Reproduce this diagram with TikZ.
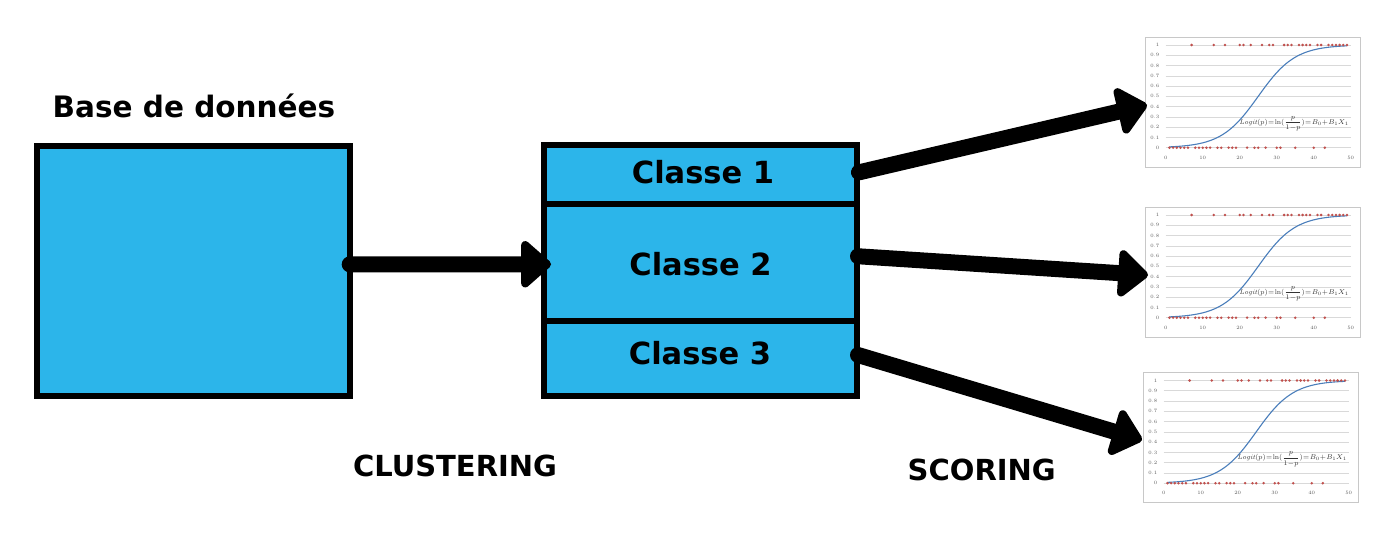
\documentclass[tikz,border=0pt]{standalone}
\usepackage{fontspec}
\usepackage{amsmath}
\usetikzlibrary{arrows.meta,calc}
\newfontfamily\dejab{DejaVu Sans}
\definecolor{boxcyan}{RGB}{44,181,234}
\definecolor{gridgray}{RGB}{217,217,217}
\definecolor{framegray}{RGB}{200,200,200}
\definecolor{labgray}{RGB}{89,89,89}
\definecolor{curveblue}{RGB}{74,126,187}
\definecolor{ptred}{RGB}{192,80,77}
\tikzset{
  cbox/.style={draw=black, fill=boxcyan, line width=6pt, inner sep=0pt, outer sep=0pt},
  bigtext/.style={font=\dejab\bfseries\fontsize{30.5}{36}\selectfont, inner sep=0pt, anchor=base},
  captext/.style={font=\dejab\bfseries\fontsize{29}{34}\selectfont, inner sep=0pt, anchor=base},
  titletext/.style={font=\dejab\bfseries\fontsize{29.5}{36}\selectfont, inner sep=0pt, anchor=base},
  bigarrow/.style={line width=16pt, line cap=round, -{Triangle[length=32pt,width=54pt,line width=8pt,round]}},
  chartbox/.style={draw=framegray, line width=0.7pt, minimum width=215pt, minimum height=130pt, inner sep=0pt, outer sep=0pt},
  gridl/.style={draw=gridgray, line width=0.6pt},
  ylab/.style={font=\fontsize{5}{5}\selectfont, text=labgray, anchor=east, inner sep=0.5pt},
  xlab/.style={font=\fontsize{5}{5}\selectfont, text=labgray, anchor=center, inner sep=0.5pt},
  curvel/.style={draw=curveblue, line width=1.1pt},
  ptdot/.style={fill=ptred},
  formula/.style={font=\fontsize{6.8}{7}\selectfont, text=black!80, inner sep=0pt}
}
\newcommand\chartdraw[3]{%
  \node[chartbox] (#3) at ({1252.5+#1},{102+#2}) {};
  \begin{scope}[shift={(#1,#2)}]
    \foreach \k in {0,...,10} {\draw[gridl] (1165.7,{147.7-10.27*\k}) -- (1350.7,{147.7-10.27*\k});}
    \foreach \k/\l in {0/0,1/0.1,2/0.2,3/0.3,4/0.4,5/0.5,6/0.6,7/0.7,8/0.8,9/0.9,10/1} {\node[ylab] at (1160,{147.7-10.27*\k}) {\l};}
    \foreach \k in {0,10,20,30,40,50} {\node[xlab] at ({1165.7+3.7*\k},157.7) {\k};}
    \draw[curvel] plot[domain=1:49,samples=80,smooth] ({1165.7+3.7*\x},{147.7-102.7/(1+exp(-0.2*(\x-25)))});
    \foreach \u in {7,13,16,20,21,23,26,28,29,32,33,34,36,37,38,39,41,42,44,45,46,47,48,49} {\fill[ptdot] ({1165.7+3.7*\u},45) circle (1.4);}
    \foreach \u in {1,2,3,4,5,6,8,9,10,11,12,14,15,17,18,19,22,24,25,27,30,31,35,40,43} {\fill[ptdot] ({1165.7+3.7*\u},147.7) circle (1.4);}
    \node[formula] (#3f) at (1294,123.5) {\thinmuskip=0mu\medmuskip=0.5mu\thickmuskip=1mu$\mathit{Logit}(p)=\ln(\dfrac{p}{1-p})=B_0+B_1X_1$};
  \end{scope}}
\begin{document}
\begin{tikzpicture}[x=1pt,y=-1pt]
\useasboundingbox (0,0) rectangle (1389,533);
% database box
\node[cbox, minimum width=312.7pt, minimum height=250.3pt] (db) at (193.35,270.85) {};
\node[titletext] (title) at (194,117.7) {Base de données};
% class boxes
\node[cbox, minimum width=313pt, minimum height=59.3pt] (c1) at (700.5,174.35) {};
\node[cbox, minimum width=313pt, minimum height=116.5pt] (c2) at (700.5,262.25) {};
\node[cbox, minimum width=313pt, minimum height=75pt] (c3) at (700.5,358) {};
\node[bigtext] (t1) at (703,183.3) {Classe 1};
\node[bigtext] (t2) at (700.5,275) {Classe 2};
\node[bigtext] (t3) at (700,364) {Classe 3};
% captions
\node[captext] (clus) at (455,476) {CLUSTERING};
\node[captext] (scor) at (981.7,480) {SCORING};
% charts
\chartdraw{0}{0}{ch1}
\chartdraw{0}{170}{ch2}
\chartdraw{-2}{335.5}{ch3}
% arrows
\draw[bigarrow] ([yshift=6.5pt]db.east) -- ([xshift=7pt,yshift=-2pt]c2.west);
\draw[bigarrow] ([xshift=2pt,yshift=2pt]c1.east) -- ([xshift=2pt,yshift=-3pt]ch1.west);
\draw[bigarrow] ([xshift=1pt,yshift=6pt]c2.east) -- ([xshift=3pt,yshift=-3pt]ch2.west);
\draw[bigarrow] ([xshift=1pt,yshift=3pt]c3.east) -- ([xshift=-1pt,yshift=-2.5pt]ch3.west);
\end{tikzpicture}
\end{document}
